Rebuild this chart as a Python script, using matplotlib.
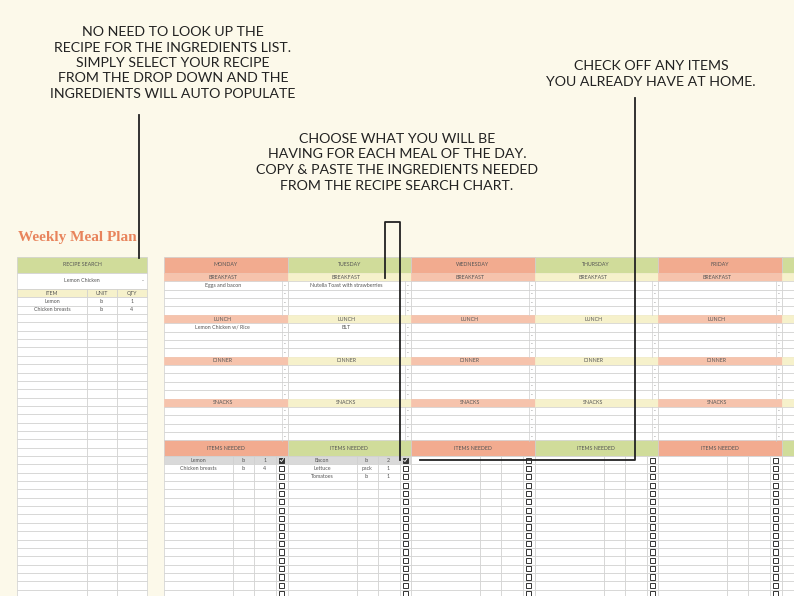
import matplotlib
matplotlib.use("Agg")
import matplotlib.pyplot as plt
from matplotlib.patches import Rectangle

# ---- data ----
days = ["MONDAY", "TUESDAY", "WEDNESDAY", "THURSDAY", "FRIDAY", ""]
meals = ["BREAKFAST", "LUNCH", "DINNER", "SNACKS"]
meal_entries = {
    ("MONDAY", "BREAKFAST"): "Eggs and bacon",
    ("TUESDAY", "BREAKFAST"): "Nutella Toast with strawberries",
    ("MONDAY", "LUNCH"): "Lemon Chicken w/ Rice",
    ("TUESDAY", "LUNCH"): "BLT",
}
recipe_name = "Lemon Chicken"
recipe_items = ["Lemon", "Chicken breasts"]
recipe_units = ["lb", "lb"]
recipe_qty = ["1", "4"]
needed = {
    "MONDAY": [("Lemon", "lb", "1", True), ("Chicken breasts", "lb", "4", False)],
    "TUESDAY": [("Bacon", "lb", "2", True), ("Lettuce", "pack", "1", False),
                ("Tomatoes", "lb", "1", False)],
}
notes = [
    ("NO NEED TO LOOK UP THE\nRECIPE FOR THE INGREDIENTS LIST.\nSIMPLY SELECT YOUR RECIPE\nFROM THE DROP DOWN AND THE\nINGREDIENTS WILL AUTO POPULATE", 173, 26),
    ("CHOOSE WHAT YOU WILL BE\nHAVING FOR EACH MEAL OF THE DAY.\nCOPY & PASTE THE INGREDIENTS NEEDED\nFROM THE RECIPE SEARCH CHART.", 397, 133),
    ("CHECK OFF ANY ITEMS\nYOU ALREADY HAVE AT HOME.", 651, 60),
]

BG = "#fcf9ea"
SALMON, SALMON_L = "#f2ab8f", "#f6c3ac"
GREEN, YELLOW_L = "#d0dc9a", "#f6f1cb"
GRID = "#cfcfcf"
TXT = "#555555"

fig = plt.figure(figsize=(7.94, 5.96), dpi=100, facecolor=BG)
ax = fig.add_axes([0, 0, 1, 1])
ax.set_xlim(0, 794)
ax.set_ylim(596, 0)
ax.axis("off")

def box(x, y, w, h, fc, ec=GRID, lw=0.5):
    ax.add_patch(Rectangle((x, y), w, h, facecolor=fc, edgecolor=ec, linewidth=lw))

def label(x, y, s, size=3.8, color=TXT, ha="center"):
    if not s or x > 788:
        return
    ax.text(x, y, s, fontsize=size, color=color, ha=ha, va="center", family="Lato")

# title
ax.text(18, 237, "Weekly Meal Plan", fontsize=11, color="#e8845c", fontweight="bold",
        family="Liberation Serif", va="center")

# ---- recipe search panel ----
rx, rw = 17, 130
box(rx, 257, rw, 16, GREEN)
label(rx + rw / 2, 265, "RECIPE SEARCH")
box(rx, 273, rw, 16, "white")
label(rx + rw / 2, 281, recipe_name)
label(rx + rw - 4, 281, "-")
rh = 8.35
cols = [rx, 87, 117, rx + rw]
for i, hdr in enumerate(["ITEM", "UNIT", "QTY"]):
    box(cols[i], 289, cols[i + 1] - cols[i], rh, YELLOW_L)
    label((cols[i] + cols[i + 1]) / 2, 289 + rh / 2, hdr)
y = 289 + rh
r = 0
while y < 596:
    for i in range(3):
        box(cols[i], y, cols[i + 1] - cols[i], rh, "white")
    if r < len(recipe_items):
        label((cols[0] + cols[1]) / 2, y + rh / 2, recipe_items[r])
        label((cols[1] + cols[2]) / 2, y + rh / 2, recipe_units[r])
        label((cols[2] + cols[3]) / 2, y + rh / 2, recipe_qty[r])
    y += rh
    r += 1

# ---- day columns ----
dx0, dw = 164, 123.5
for d, day in enumerate(days):
    x = dx0 + d * dw
    main = SALMON if d % 2 == 0 else GREEN
    sub = SALMON_L if d % 2 == 0 else YELLOW_L
    box(x, 257, dw, 16, main)
    label(x + dw / 2, 265, day)
    y = 273
    for meal in meals:
        box(x, y, dw, 8.3, sub, ec=sub)
        label(x + dw / 2 - 3, y + 4.15, meal if day else "")
        y += 8.3
        for k in range(4):
            box(x, y, dw, 8.4, "white")
            ax.plot([x + dw - 6, x + dw - 6], [y, y + 8.4], color=GRID, lw=0.5)
            if k == 0 and (day, meal) in meal_entries:
                label(x + dw / 2 - 3, y + 4.2, meal_entries[(day, meal)])
            label(x + dw - 3, y + 4.2, "-", size=3.5)
            y += 8.4
    box(x, 440, dw, 16, main)
    label(x + dw / 2, 448, "ITEMS NEEDED" if day else "")
    sub_cols = [x, x + 69, x + 90, x + 112, x + dw]
    items = needed.get(day, [])
    y = 456
    r = 0
    while y < 596:
        fc = "#d9d9d9" if r == 0 and items else "white"
        for i in range(4):
            box(sub_cols[i], y, sub_cols[i + 1] - sub_cols[i], rh, fc)
        if r < len(items):
            name, unit, qty, done = items[r]
            label((sub_cols[0] + sub_cols[1]) / 2, y + rh / 2, name)
            label((sub_cols[1] + sub_cols[2]) / 2, y + rh / 2, unit)
            label((sub_cols[2] + sub_cols[3]) / 2, y + rh / 2, qty)
        else:
            done = False
        cx = (sub_cols[3] + sub_cols[4]) / 2
        ax.add_patch(Rectangle((cx - 2.6, y + 1.5), 5.2, 5.2,
                               facecolor="#333333" if done else "white",
                               edgecolor="#333333", linewidth=0.7))
        if done:
            ax.plot([cx - 1.6, cx - 0.3, cx + 1.8], [y + 4.2, y + 5.5, y + 2.6],
                    color="white", lw=0.6)
        y += rh
        r += 1

# ---- annotations ----
for text, cx, ty in notes:
    ax.text(cx, ty, text, fontsize=10.2, color="#222222", ha="center", va="top",
            linespacing=1.35, family="Lato")
ax.plot([139, 139], [115, 258], color="#222222", lw=1.3)
ax.plot([400, 400, 385, 385], [460, 222, 222, 278], color="#222222", lw=1.3)
ax.plot([635, 635, 420], [98, 460, 460], color="#222222", lw=1.3)

fig.savefig("out.png", dpi=100, facecolor=BG)
